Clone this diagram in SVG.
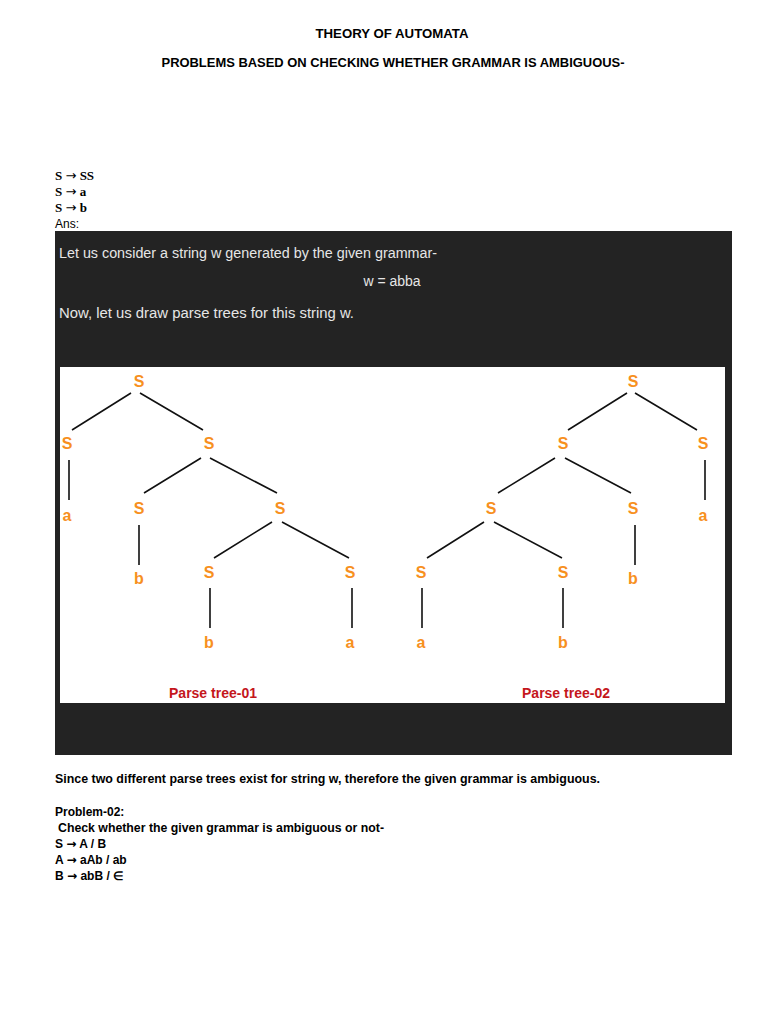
<svg xmlns="http://www.w3.org/2000/svg" width="768" height="1024" viewBox="0 0 768 1024">
<style>
.h{font-family:"Liberation Sans",Arial,sans-serif;font-weight:bold;font-size:12px;fill:#000}
.g{font-family:"Liberation Serif","Times New Roman",serif;font-weight:bold;font-size:13px;fill:#000}
.ar{font-family:"DejaVu Sans",sans-serif;font-weight:normal}
.arb{font-family:"DejaVu Sans",sans-serif;font-weight:bold}
.b{font-family:"Liberation Sans",Arial,sans-serif;font-size:12px;fill:#000}
.d{font-family:"Liberation Sans",Arial,sans-serif;font-size:14px;fill:#e6e6e6}
.n{font-family:"Liberation Sans",Arial,sans-serif;font-weight:bold;font-size:16px;fill:#f7901e;text-anchor:middle}
.lab{font-family:"Liberation Sans",Arial,sans-serif;font-weight:bold;font-size:14px;fill:#c4161c;text-anchor:middle}
.e{stroke:#111;stroke-width:1.6;fill:none}
</style>
<rect width="768" height="1024" fill="#fff"/>
<text class="h" x="392" y="38" text-anchor="middle" textLength="153" lengthAdjust="spacingAndGlyphs">THEORY OF AUTOMATA</text>
<text class="h" x="393" y="67" text-anchor="middle" textLength="463" lengthAdjust="spacingAndGlyphs">PROBLEMS BASED ON CHECKING WHETHER GRAMMAR IS AMBIGUOUS-</text>
<text class="g" x="55" y="180">S <tspan class="ar">→</tspan> SS</text>
<text class="g" x="55" y="196">S <tspan class="ar">→</tspan> a</text>
<text class="g" x="55" y="212">S <tspan class="ar">→</tspan> b</text>
<text class="b" x="55" y="228">Ans:</text>
<rect x="55" y="231" width="677" height="524" fill="#232323"/>
<text class="d" x="59" y="258" textLength="378" lengthAdjust="spacingAndGlyphs">Let us consider a string w generated by the given grammar-</text>
<text class="d" x="392" y="286" text-anchor="middle">w = abba</text>
<text class="d" x="59" y="318" textLength="295" lengthAdjust="spacingAndGlyphs">Now, let us draw parse trees for this string w.</text>
<rect x="60" y="367" width="665" height="336" fill="#fff"/>
<g id="edges">
<path class="e" d="M131 393L72 430M140 393L203 430M69 460V500M201 458L144 493M210 458L277 493M139 525V565M272 522L214 558M282 522L349 558M210 588V628M352 588V628"/>
<path class="e" d="M627 393L568 430M635 393L697 430M705 460V500M555 458L498 493M565 458L631 493M635 525V565M484 522L427 558M494 522L562 558M422 588V628M563 588V628"/>
</g>
<g id="tree1">
<g id="t1n1"><text class="n" x="139" y="387">S</text></g>
<g id="t1n2"><text class="n" x="67" y="449">S</text></g>
<g id="t1n3"><text class="n" x="67" y="521">a</text></g>
<g id="t1n4"><text class="n" x="209" y="449">S</text></g>
<g id="t1n5"><text class="n" x="139" y="514">S</text></g>
<g id="t1n6"><text class="n" x="139" y="584">b</text></g>
<g id="t1n7"><text class="n" x="280" y="514">S</text></g>
<g id="t1n8"><text class="n" x="209" y="578">S</text></g>
<g id="t1n9"><text class="n" x="209" y="648">b</text></g>
<g id="t1n10"><text class="n" x="350" y="578">S</text></g>
<g id="t1n11"><text class="n" x="350" y="648">a</text></g>
<text class="lab" x="213" y="698">Parse tree-01</text>
</g>
<g id="tree2">
<g id="t2n1"><text class="n" x="633" y="387">S</text></g>
<g id="t2n2"><text class="n" x="563" y="449">S</text></g>
<g id="t2n3"><text class="n" x="703" y="449">S</text></g>
<g id="t2n4"><text class="n" x="703" y="521">a</text></g>
<g id="t2n5"><text class="n" x="491" y="514">S</text></g>
<g id="t2n6"><text class="n" x="633" y="514">S</text></g>
<g id="t2n7"><text class="n" x="633" y="584">b</text></g>
<g id="t2n8"><text class="n" x="421" y="578">S</text></g>
<g id="t2n9"><text class="n" x="421" y="648">a</text></g>
<g id="t2n10"><text class="n" x="563" y="578">S</text></g>
<g id="t2n11"><text class="n" x="563" y="648">b</text></g>
<text class="lab" x="566" y="698">Parse tree-02</text>
</g>
<text class="h" x="55" y="783" textLength="545" lengthAdjust="spacingAndGlyphs">Since two different parse trees exist for string w, therefore the given grammar is ambiguous.</text>
<text class="h" x="55" y="816">Problem-02:</text>
<text class="h" x="58" y="832" textLength="326" lengthAdjust="spacingAndGlyphs">Check whether the given grammar is ambiguous or not-</text>
<text class="h" x="55" y="848">S <tspan class="arb">→</tspan> A / B</text>
<text class="h" x="55" y="864">A <tspan class="arb">→</tspan> aAb / ab</text>
<text class="h" x="55" y="880">B <tspan class="arb">→</tspan> abB / ∈</text>
</svg>
